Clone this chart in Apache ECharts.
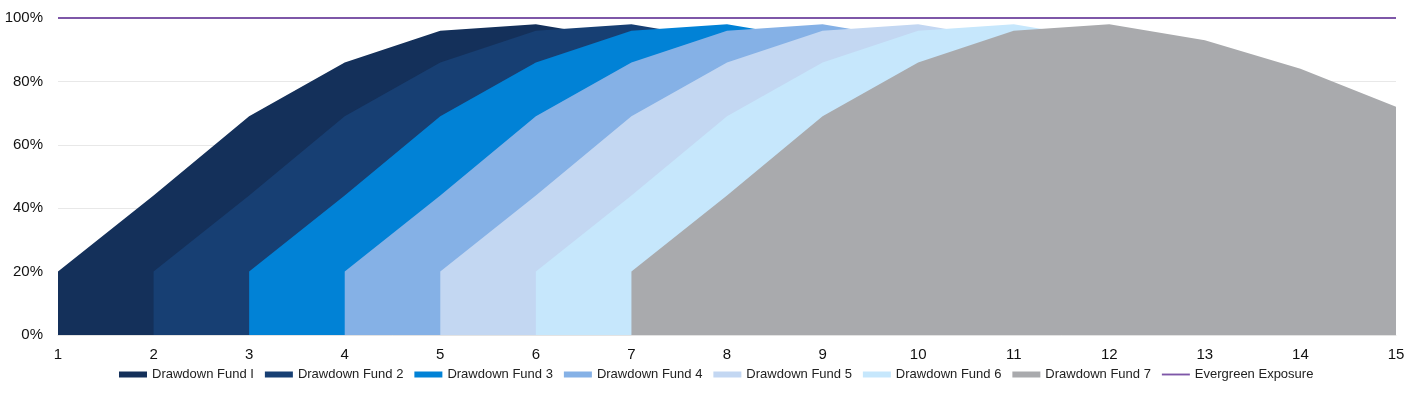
<!DOCTYPE html>
<html>
<head>
<meta charset="utf-8">
<script src="https://cdn.jsdelivr.net/npm/echarts@6/dist/echarts.min.js"></script>
<style>html,body{margin:0;padding:0;background:#fff}#c{width:1408px;height:397px}</style>
</head>
<body>
<div id="c"></div>
<script>
const categories = ['1','2','3','4','5','6','7','8','9','10','11','12','13','14','15'];
const fund1 = [20, 44, 69, 86, 96, 98, 93, 84, 72, null, null, null, null, null, null];
const fund2 = [null, 20, 44, 69, 86, 96, 98, 93, 84, 72, null, null, null, null, null];
const fund3 = [null, null, 20, 44, 69, 86, 96, 98, 93, 84, 72, null, null, null, null];
const fund4 = [null, null, null, 20, 44, 69, 86, 96, 98, 93, 84, 72, null, null, null];
const fund5 = [null, null, null, null, 20, 44, 69, 86, 96, 98, 93, 84, 72, null, null];
const fund6 = [null, null, null, null, null, 20, 44, 69, 86, 96, 98, 93, 84, 72, null];
const fund7 = [null, null, null, null, null, null, 20, 44, 69, 86, 96, 98, 93, 84, 72];
const evergreen = [100, 100, 100, 100, 100, 100, 100, 100, 100, 100, 100, 100, 100, 100, 100];

const names = ['Drawdown Fund I','Drawdown Fund 2','Drawdown Fund 3','Drawdown Fund 4','Drawdown Fund 5','Drawdown Fund 6','Drawdown Fund 7'];
const colors = ['#14305A','#173F73','#0182D6','#85B1E6','#C3D7F2','#C6E7FC','#A9AAAD'];
const funds = [fund1, fund2, fund3, fund4, fund5, fund6, fund7];

const series = funds.map((d, i) => ({
  name: names[i], type: 'line', data: d, symbol: 'none', showSymbol: false,
  connectNulls: false, lineStyle: { width: 0, color: colors[i] },
  itemStyle: { color: colors[i] },
  areaStyle: { color: colors[i], opacity: 1 }, z: 2 + i, silent: true
}));
series.push({
  name: 'Evergreen Exposure', type: 'line', data: evergreen, symbol: 'none', showSymbol: false,
  lineStyle: { width: 2, color: '#7E57A8' }, itemStyle: { color: '#7E57A8' }, z: 20
});

const chart = echarts.init(document.getElementById('c'), null, { renderer: 'canvas' });
chart.setOption({
  animation: false,
  textStyle: { fontFamily: 'Liberation Sans, Arial, sans-serif' },
  grid: { left: 58, right: 12, top: 18, bottom: 62, containLabel: false },
  legend: {
    bottom: 11, left: 114, itemWidth: 28, itemHeight: 6, itemGap: 11,
    symbolKeepAspect: true,
    textStyle: { fontSize: 13, color: '#222' },
    data: names.map(n => ({ name: n, icon: 'rect' })).concat([{ name: 'Evergreen Exposure', icon: 'path://M0,0H30V2H0Z' }])
  },
  xAxis: {
    type: 'category', data: categories, boundaryGap: false,
    axisLine: { show: true, lineStyle: { color: '#e3e3e3', width: 1 } },
    axisTick: { show: false },
    axisLabel: { fontSize: 15, color: '#111', margin: 12 },
    splitLine: { show: false }
  },
  yAxis: {
    type: 'value', min: 0, max: 100, interval: 20,
    axisLine: { show: false }, axisTick: { show: false },
    axisLabel: { fontSize: 15, color: '#111', formatter: '{value}%', margin: 15 },
    splitLine: { show: true, lineStyle: { color: '#e8e8e8', width: 1 } }
  },
  series: series
});
</script>
</body>
</html>
